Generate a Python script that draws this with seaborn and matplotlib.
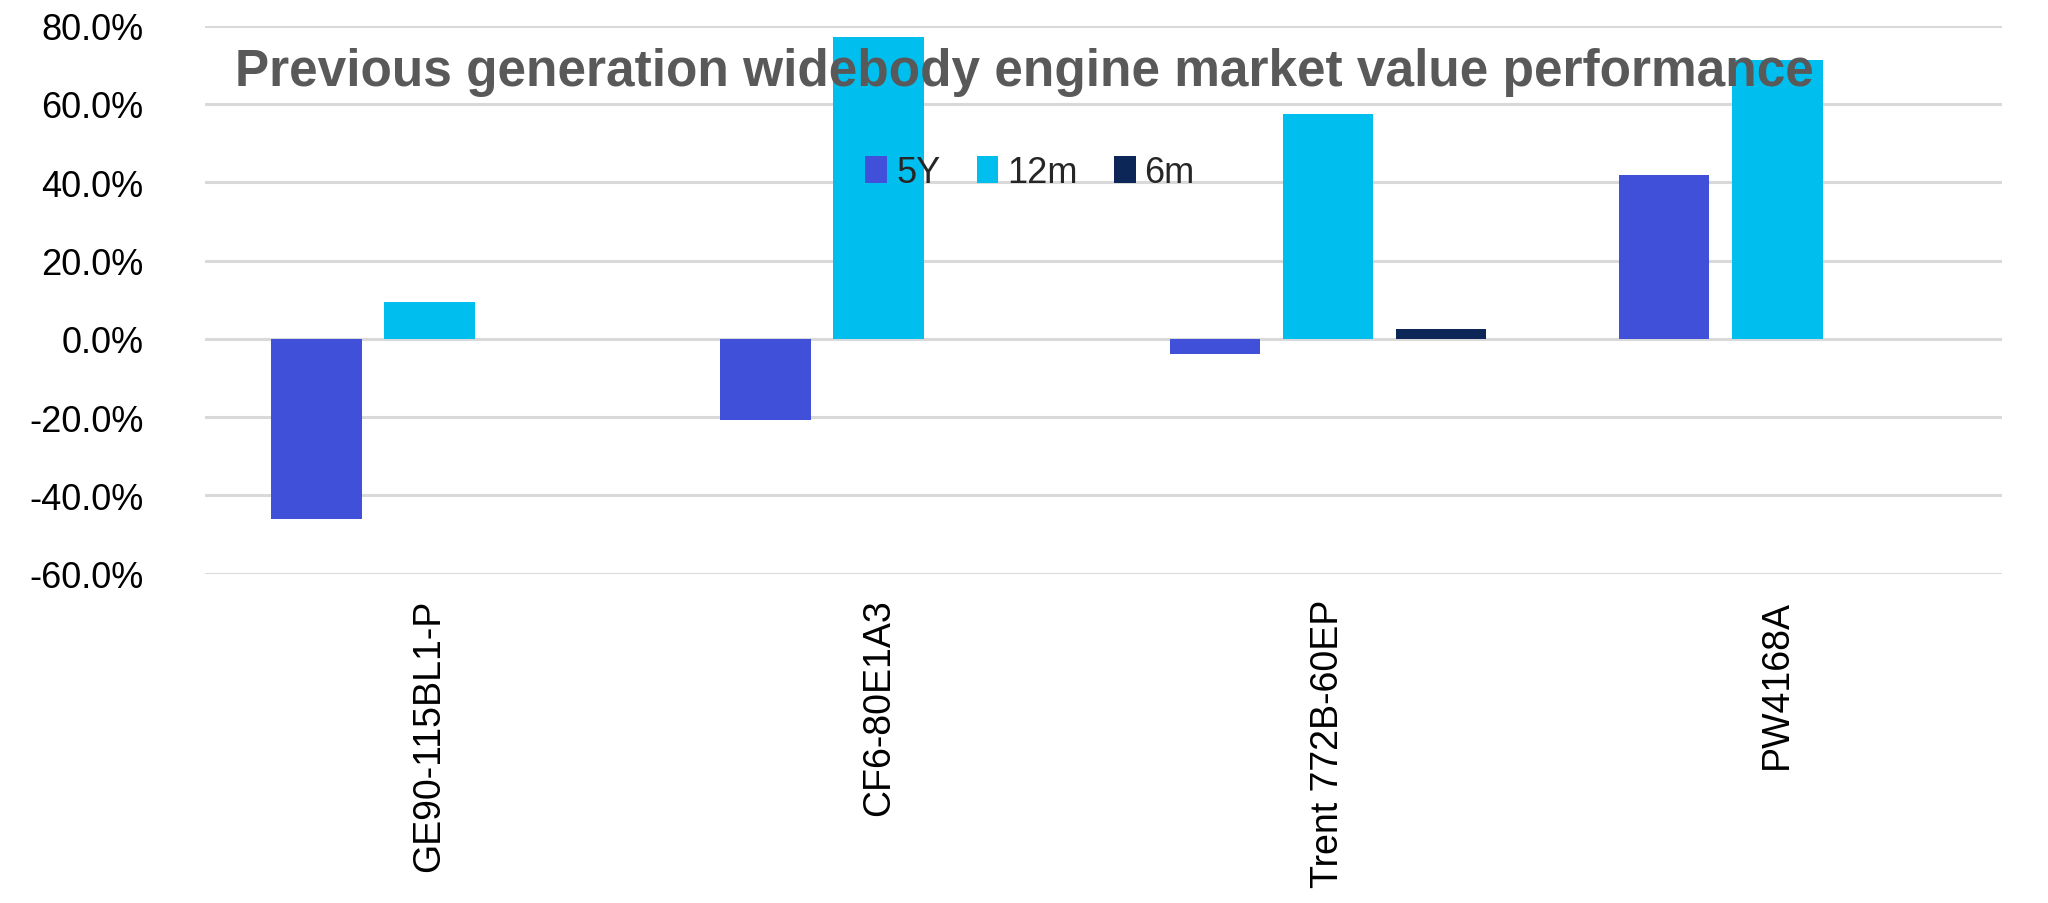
import numpy as np
import matplotlib.pyplot as plt
import matplotlib.ticker as mticker
from matplotlib.patches import Patch
import seaborn as sns
import pandas as pd

engines = ['GE90-115BL1-P', 'CF6-80E1A3', 'Trent 772B-60EP', 'PW4168A']
periods = ['5Y', '12m', '6m']
val_5y = [-46.1, -20.7, -3.8, 41.8]
val_12m = [9.3, 77.0, 57.5, 71.2]
val_6m = [np.nan, np.nan, 2.5, np.nan]
colors = ['#4150D9', '#00BFEE', '#0C2657']
yticks = [-60, -40, -20, 0, 20, 40, 60, 80]

sns.set_style("white")
plt.rcParams['font.family'] = ['Liberation Sans', 'DejaVu Sans']

rows = []
for p, vals in zip(periods, [val_5y, val_12m, val_6m]):
    for e, v in zip(engines, vals):
        rows.append([e, p, v])
df = pd.DataFrame(rows, columns=['Engine', 'Period', 'Change']).dropna()

fig = plt.figure(figsize=(20.48, 9.04), dpi=100)
ax = fig.add_axes([0.1, 0.3643, 0.8775, 0.6062])

sns.barplot(data=df, x='Engine', y='Change', hue='Period',
            order=engines, hue_order=periods,
            palette=dict(zip(periods, colors)), saturation=1,
            width=0.755, gap=0.2, legend=False, ax=ax, zorder=3,
            linewidth=0)

ax.set_xlim(-0.5, 3.5)
ax.set_ylim(-60, 80)
ax.set_yticks(yticks)
ax.yaxis.set_major_formatter(mticker.FuncFormatter(lambda v, _: f'{v:.1f}%'))
ax.grid(axis='y', color='#D9D9D9', linewidth=2.2, zorder=0)
ax.set_axisbelow(True)
for s in ax.spines.values():
    s.set_visible(False)
ax.set_xlabel('')
ax.set_ylabel('')
ax.tick_params(axis='y', length=0, pad=44, labelsize=26, labelcolor='black')
ax.tick_params(axis='x', length=0, pad=18, labelsize=27, labelrotation=90,
               labelcolor='black')
for lbl in ax.get_xticklabels():
    lbl.set_va('top')

handles = [Patch(facecolor=c, edgecolor='none', label=p)
           for p, c in zip(periods, colors)]
fig.legend(handles=handles, loc='center', bbox_to_anchor=(0.503, 0.808),
           ncol=3, frameon=False, fontsize=26, handlelength=0.6,
           handleheight=0.75, handletextpad=0.25, columnspacing=1.0)

fig.text(0.5, 0.92, 'Previous generation widebody engine market value performance',
         ha='center', va='center', fontsize=37, fontweight='bold',
         color='#595959', zorder=10,
         family=['Liberation Sans Narrow', 'Liberation Sans', 'DejaVu Sans'])

fig.savefig('out.png', dpi=100)
